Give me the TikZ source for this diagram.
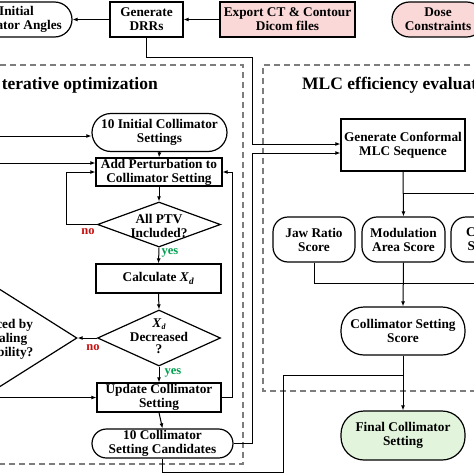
\documentclass[tikz,border=0pt]{standalone}
\usepackage{fontspec}
\setmainfont{Liberation Serif}
\usetikzlibrary{arrows.meta,shapes.geometric}
\definecolor{pinkfill}{RGB}{250,216,216}
\definecolor{greenfill}{RGB}{226,245,220}
\definecolor{dashgray}{RGB}{125,125,125}
\definecolor{nored}{RGB}{200,16,16}
\definecolor{yesgreen}{RGB}{0,160,80}
\begin{document}
\begin{tikzpicture}[x=1pt,y=-1pt,
  every node/.style={font=\fontsize{13.3}{14}\selectfont\bfseries, inner sep=0pt, align=center},
  rbox/.style={draw, line width=1.2pt, rectangle},
  rrbox/.style={draw, line width=1.2pt, rectangle, rounded corners=#1},
  dia/.style={draw, line width=1.2pt, diamond},
  conn/.style={line width=1pt, -{Latex[length=5pt,width=4pt]}},
  plain/.style={line width=1pt},
  dashbox/.style={dashgray, line width=1.2pt, dash pattern=on 6pt off 4pt},
  nolab/.style={text=nored, font=\fontsize{12.5}{12.5}\selectfont\bfseries},
  yeslab/.style={text=yesgreen, font=\fontsize{12.5}{12.5}\selectfont\bfseries},
  ttl/.style={font=\fontsize{17.5}{18}\selectfont\bfseries}]
\useasboundingbox (0,0) rectangle (474,474);
\clip (0,0) rectangle (474,474);
\fill[white] (0,0) rectangle (474,474);

% dashed frames
\draw[dashbox] (-10,65) -- (243,65) -- (243,464) -- (-10,464);
\draw[dashbox] (490,65) -- (263,65) -- (263,391) -- (490,391);
\node[ttl, anchor=east] (t1) at (158,85) {\phantom{I}terative optimization};
\node[ttl, anchor=west] (t2) at (302,85) {MLC efficiency evaluation};

% top row
\node[rrbox=17.5pt, minimum width=124pt, minimum height=35pt] (angles) at (10,19.5) {\phantom{N }Initial\\\phantom{Collim}ator Angles};
\node[rbox, minimum width=73pt, minimum height=35pt] (drr) at (146.5,19.5) {Generate\\DRRs};
\node[rbox, fill=pinkfill, minimum width=135pt, minimum height=35pt] (export) at (287.5,19.5) {Export CT \& Contour\\Dicom files};
\node[rrbox=17.5pt, fill=pinkfill, minimum width=92pt, minimum height=35pt] (dose) at (438,19.5) {Dose\\Constraints};

% iterative optimization
\node[rrbox=19pt, minimum width=135pt, minimum height=38pt] (init10) at (159.5,132.5) {10 Initial Collimator\\Settings};
\node[rbox, minimum width=126pt, minimum height=28pt] (perturb) at (159,172) {Add Perturbation to\\Collimator Setting};
\node[dia, minimum width=123pt, minimum height=45pt] (ptv) at (159,224.5) {};
\node (ptvt) at (159,225.5) {All PTV\\Included?};
\node[rbox, minimum width=125pt, minimum height=29pt] (calc) at (158.5,278.5) {Calculate \textit{X}\textsubscript{\textit{d}}};
\node[dia, minimum width=123pt, minimum height=56pt] (dec) at (159,338) {};
\node[font=\fontsize{13.3}{12.5}\selectfont\bfseries] (dect) at (159,336.5) {\textit{X}\raisebox{-2pt}{\fontsize{8}{8}\selectfont\textit{d}}\\[1pt]Decreased\\?};
\node[dia, minimum width=158pt, minimum height=100pt] (bigd) at (-2,338) {};
\node (bigdt) at (-2,339) {\phantom{Repla}ced by\\\phantom{Anne}aling\\\phantom{Proba}bility?};
\node[rbox, minimum width=124pt, minimum height=29pt] (update) at (159,397.5) {Update Collimator\\Setting};
\node[rrbox=14.5pt, minimum width=141pt, minimum height=29pt] (cand) at (162.5,443.5) {10 Collimator\\Setting Candidates};

% MLC efficiency evaluation
\node[rbox, minimum width=124pt, minimum height=52pt] (mlc) at (403,145) {Generate Conformal\\MLC Sequence};
\node[rrbox=15pt, minimum width=82pt, minimum height=45pt] (jaw) at (314,239.5) {Jaw Ratio\\Score};
\node[rrbox=15pt, minimum width=83pt, minimum height=45pt] (mod) at (403.5,239.5) {Modulation\\Area Score};
\node[rrbox=15pt, minimum width=83pt, minimum height=45pt] (third) at (492.5,239.5) {};
\node[anchor=west, align=left] (thirdt) at (466,239.5) {C\\\hspace*{1.5pt}S};
\node[rrbox=23pt, minimum width=124pt, minimum height=48pt] (css) at (403,331) {Collimator Setting\\Score};
\node[rrbox=23pt, fill=greenfill, minimum width=124pt, minimum height=49pt] (final) at (403,435.5) {Final Collimator\\Setting};

% helper coordinates
\coordinate (in1) at (-5,136);
\coordinate (j1) at (0,375);
\coordinate (j2) at (0,193);
\coordinate (j3) at (0,283);
\coordinate (drrc) at (252.5,57);
\coordinate (candc) at (252.5,443.5);
\coordinate (botc) at (283,472);

% connectors, top row
\draw[conn] (export.west) -- (drr.east);
\draw[conn] (drr.west) -- (angles.east);
\draw[conn] (drr.south) |- (drrc) |- ([yshift=1pt]mlc.west);

% connectors, iterative optimization
\draw[conn] (in1) -- (in1 -| init10.west);
\draw[conn] (init10.south) -- (perturb.north);
\draw[conn] (bigd.north) |- ([yshift=9pt]perturb.west);
\draw[conn] (perturb.south) -- (ptv.north);
\draw[conn] (ptv.west) -- ++(-30,0) |- (perturb.west);
\node[nolab] (no1) at (88,232) {no};
\draw[conn] (ptv.south) -- (calc.north);
\node[yeslab] (yes1) at (170,253) {yes};
\draw[conn] (calc.south) -- (dec.north);
\draw[conn] (dec.west) -- (bigd.east);
\node[nolab] (no2) at (93,348) {no};
\draw[conn] (dec.south) -- (update.north);
\node[yeslab] (yes2) at (173,373) {yes};
\draw[conn] (bigd.south) |- (update.west);
\draw[conn] (update.south) -- (cand.north);
\draw[conn] (update.east) -- ++(11,0) |- (perturb.east);
\draw[conn] (cand.east) -- (candc) |- ([yshift=-8pt]mlc.west);
\draw[plain] (cand.south) |- (botc) |- (css.south |- j1);

% connectors, MLC efficiency evaluation
\draw[conn] (mlc.south) -- (mod.north);
\draw[conn] (mlc.south |- j2) -| (third.north);
\draw[plain] (jaw.south) |- (mod.south |- j3);
\draw[plain] (third.south) |- (mod.south |- j3);
\draw[conn] (mod.south) -- (css.north);
\draw[conn] (css.south) -- (final.north);
\end{tikzpicture}
\end{document}
